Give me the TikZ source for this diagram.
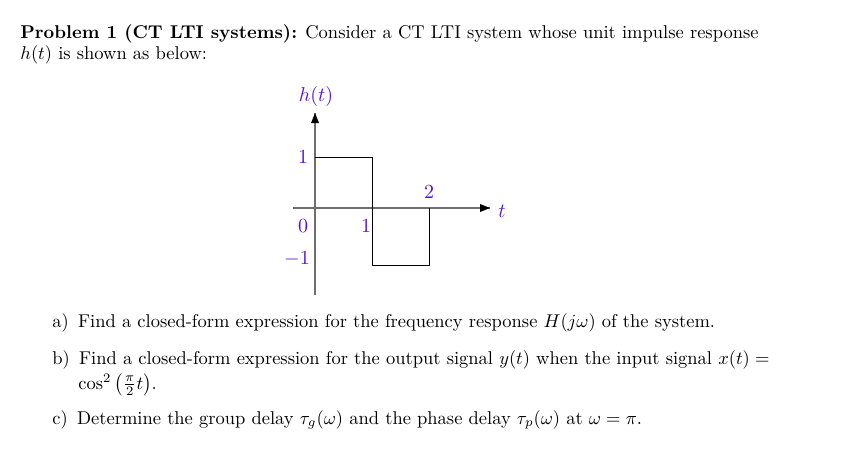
\documentclass[tikz,border=0pt]{standalone}
\usepackage{amsmath}
\begin{document}
\begin{tikzpicture}[x=1pt,y=-1pt,
  txt/.style={anchor=base west,inner sep=0pt,font=\normalsize,scale=1.85},
  lab/.style={text={rgb,255:red,85;green,20;blue,210},inner sep=0pt,font=\normalsize,scale=2},
  ax/.style={draw={rgb,255:red,110;green,110;blue,110},line width=1.2pt},
  sig/.style={draw=black,line width=0.9pt}]
\useasboundingbox (0,0) rectangle (844,452);
\node[txt] (l1) at (20,39) {\textbf{Problem 1 (CT LTI systems):} Consider a CT LTI system whose unit impulse response};
\node[txt] (l2) at (20,60) {$h(t)$ is shown as below:};
% plot
\coordinate (o) at (315,208);
\coordinate (yb) at (315,295);
\coordinate (yt) at (315,113);
\coordinate (xl) at (293,208);
\coordinate (xr) at (490,208);
\draw[ax] (yb) -- (yt);
\fill (yt) ++(-4,10) -- (yt) -- ++(4,10) -- cycle;
\draw[ax] (xl) -- (xr);
\fill (xr) ++(-10,-4) -- (xr) -- ++(-10,4) -- cycle;
\draw[sig] (315,157) -- (372,157) -- (372,265) -- (429,265) -- (429,208);
\node[lab] (ht) at (316,97) {$h(t)$};
\node[lab] (tl) at (502,211) {$t$};
\node[lab] (y1) at (303,157) {$1$};
\node[lab] (o0) at (303,226) {$0$};
\node[lab] (x1) at (366,226) {$1$};
\node[lab] (x2) at (429,192) {$2$};
\node[lab] (ym) at (297,259) {$-1$};
% questions
\node[txt] (a) at (52,327) {a)\enskip Find a closed-form expression for the frequency response $H(j\omega)$ of the system.};
\node[txt] (b) at (52,364) {b)\enskip Find a closed-form expression for the output signal $y(t)$ when the input signal $x(t)=$};
\node[txt] (b2) at (78,389) {$\cos^2\left(\frac{\pi}{2}t\right)$.};
\node[txt] (c) at (52,424) {c)\enskip Determine the group delay $\tau_g(\omega)$ and the phase delay $\tau_p(\omega)$ at $\omega=\pi$.};
\end{tikzpicture}
\end{document}
